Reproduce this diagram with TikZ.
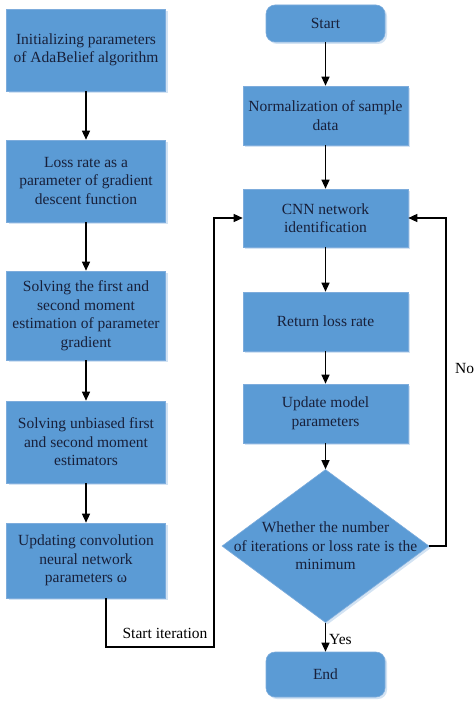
\documentclass[tikz,border=0pt]{standalone}
\usepackage{fontspec}
\setmainfont{Liberation Serif}
\usetikzlibrary{shapes.geometric,arrows.meta,shadows}
\definecolor{boxfill}{RGB}{91,155,213}
\definecolor{boxedge}{RGB}{125,172,220}
\definecolor{shadowc}{RGB}{200,220,240}
\definecolor{txt}{RGB}{24,32,58}
\begin{document}
\begin{tikzpicture}[x=1pt,y=-1pt,
  every node/.style={font=\fontsize{15.5}{18.5}\selectfont, text=txt},
  box/.style={rectangle, fill=boxfill, draw=boxedge, line width=0.6pt, align=center, inner sep=2pt,
     drop shadow={shadow xshift=2pt, shadow yshift=-2pt, fill=shadowc, opacity=0.8}},
  term/.style={box, rounded corners=9pt},
  conn/.style={draw=black, line width=1.3pt, -{Triangle[length=9pt,width=8pt]}},
  plain/.style={draw=black, line width=1.3pt},
  lab/.style={text=black}
]
\useasboundingbox (0,0) rectangle (474,708);
% left column
\node[box, minimum width=159pt, minimum height=82pt] (l1) at (86,50) {Initializing parameters\\of AdaBelief algorithm};
\node[box, minimum width=159pt, minimum height=82pt] (l2) at (86,181) {Loss rate as a\\parameter of gradient\\descent function};
\node[box, minimum width=159pt, minimum height=89pt] (l3) at (86,315.5) {Solving the first and\\second moment\\estimation of parameter\\gradient};
\node[box, minimum width=159pt, minimum height=82pt] (l4) at (86,442) {Solving unbiased first\\and second moment\\estimators};
\node[box, minimum width=159pt, minimum height=75pt] (l5) at (86,560.5) {Updating convolution\\neural network\\parameters ω};
% right column
\node[term, minimum width=119pt, minimum height=37pt] (start) at (325.5,23.5) {Start};
\node[box, minimum width=165pt, minimum height=59pt] (norm) at (325.5,115.5) {Normalization of sample\\data};
\node[box, minimum width=165pt, minimum height=58pt] (cnn) at (325.5,218) {CNN network\\identification};
\node[box, minimum width=165pt, minimum height=59pt] (ret) at (325.5,321.5) {Return loss rate};
\node[box, minimum width=165pt, minimum height=59pt] (upd) at (325.5,413.5) {Update model\\parameters};
\node[diamond, fill=boxfill, draw=boxedge, line width=0.6pt, inner sep=0pt, minimum width=207pt, minimum height=153pt,
     drop shadow={shadow xshift=2pt, shadow yshift=-2pt, fill=shadowc, opacity=0.8}] (dia) at (325.5,546) {};
\node[align=center, inner sep=0pt] (diatext) at (dia.center) {Whether the number\\of iterations or loss rate is the\\minimum};
\node[term, minimum width=119pt, minimum height=45pt] (end) at (325.5,674.5) {End};
% arrows left
\draw[conn] (l1) -- (l2);
\draw[conn] (l2) -- (l3);
\draw[conn] (l3) -- (l4);
\draw[conn] (l4) -- (l5);
% arrows right
\draw[conn] (start) -- (norm);
\draw[conn] (norm) -- (cnn);
\draw[conn] (cnn) -- (ret);
\draw[conn] (ret) -- (upd);
\draw[conn] (upd) -- (dia.north);
\draw[conn] (dia.south) -- node[lab, right, inner sep=3pt, yshift=-2pt] (yes) {Yes} (end);
% loop No
\coordinate (nocorner) at (446,546);
\draw[conn] (dia.east) -- (nocorner) |- (cnn.east);
\node[lab, anchor=west, inner sep=0pt] (no) at (455,368) {No};
% start iteration
\coordinate (s1) at (106,598);
\coordinate (s2) at (106,647);
\coordinate (s3) at (214,647);
\draw[conn] (s1) -- (s2) -- (s3) |- (cnn.west);
\node[lab, inner sep=0pt] (startit) at (165,633) {Start iteration};
\end{tikzpicture}
\end{document}
